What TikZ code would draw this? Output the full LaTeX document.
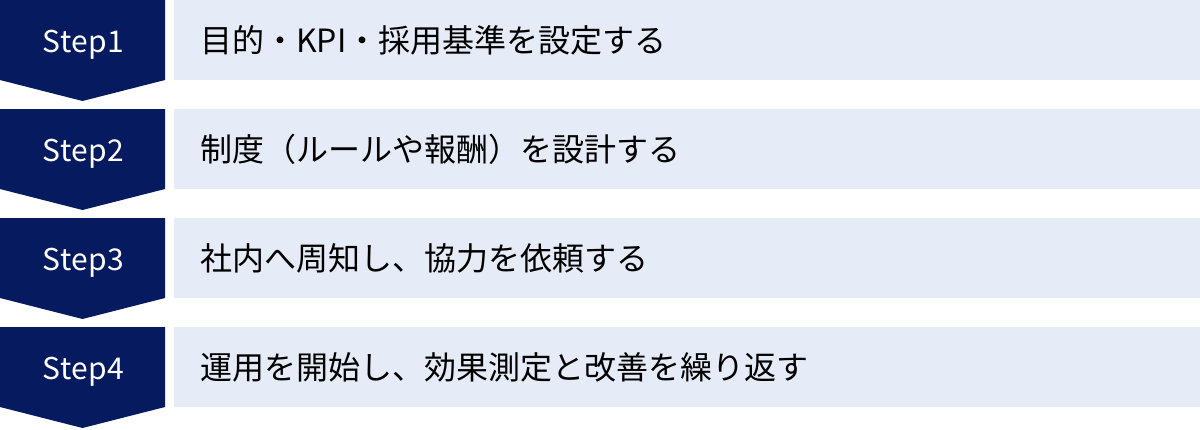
\documentclass[tikz,border=0pt]{standalone}
\usepackage{fontspec}
\setmainfont{Noto Sans CJK JP}
\newfontfamily\stepfont[LetterSpace=2]{Noto Sans CJK JP}
\definecolor{navy}{HTML}{061A60}
\definecolor{pale}{HTML}{E6EBF8}
\begin{document}
\begin{tikzpicture}[x=1pt,y=-1pt,
  chev/.style={fill=navy},
  bar/.style={fill=pale},
  steplabel/.style={text=white,font=\stepfont\fontsize{30}{33}\selectfont,anchor=base,inner sep=0pt},
  desc/.style={text=black,font=\fontsize{32}{35}\selectfont,anchor=base west,inner sep=0pt}]
\useasboundingbox (0,0) rectangle (1200,429);
\foreach \i/\t in {1/{目的・KPI・採用基準を設定する},2/{制度（ルールや報酬）を設計する},3/{社内へ周知し、協力を依頼する},4/{運用を開始し、効果測定と改善を繰り返す}}{
  \pgfmathsetmacro{\top}{(\i-1)*109}
  \fill[chev] (0,\top) -- (165,\top) -- (165,\top+80) -- (82.5,\top+101) -- (0,\top+80) -- cycle;
  \fill[bar] (174,\top) rectangle (1200,\top+80);
  \node[steplabel] (s\i) at (83.5,\top+52) {Step\i};
  \node[desc] (d\i) at (200,\top+52) {\t};
}
\end{tikzpicture}
\end{document}
